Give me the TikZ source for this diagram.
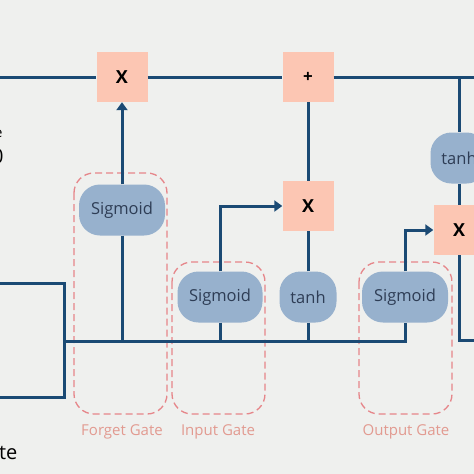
\documentclass[tikz,border=0pt]{standalone}
\usepackage{fontspec}
\setmainfont{Open Sans}
\usepackage{xcolor}
\usetikzlibrary{arrows.meta, positioning, calc}

\definecolor{bgcol}{HTML}{EFF0EE}
\definecolor{wire}{HTML}{1B4A74}
\definecolor{opfill}{HTML}{FCC6B3}
\definecolor{actfill}{HTML}{97B1CD}
\definecolor{acttext}{HTML}{2E3D55}
\definecolor{gatedash}{HTML}{E6868A}
\definecolor{gatelabel}{HTML}{E29A90}

\tikzset{
  wireline/.style={wire, line width=3pt},
  wirearrow/.style={wireline, -{Triangle[width=11pt,length=8pt]}},
  opbox/.style={fill=opfill, minimum width=51pt, minimum height=50pt, inner sep=0pt,
                font=\fontsize{18}{20}\selectfont\bfseries},
  actpill/.style={fill=actfill, rounded corners=21pt, minimum height=51pt, inner sep=0pt,
                  text=acttext, font=\fontsize{16.5}{19}\selectfont},
  gatebox/.style={gatedash, line width=1.3pt, dash pattern=on 7pt off 4pt, rounded corners=20pt},
  gatename/.style={text=gatelabel, font=\fontsize{15}{17}\selectfont}
}

\begin{document}
\begin{tikzpicture}[x=1pt, y=-1pt]
  % Background and frame
  \fill[bgcol] (0,0) rectangle (474,474);
  \useasboundingbox (0,0) rectangle (474,474);
  \clip (0,0) rectangle (474,474);

  % Text cut off at the left edge
  \node[font=\fontsize{14}{16}\selectfont, anchor=east] (cellname) at (6,132) {Cell State};
  \node[font=\fontsize{20}{22}\selectfont, anchor=east] (cellsym) at (7,156) {C0};
  \node[font=\fontsize{20}{22}\selectfont, anchor=east] (hidname) at (21,452) {State};

  % Pointwise operations
  \node[opbox] (fmul) at (122,77) {X};
  \node[opbox, font=\fontsize{17}{20}\selectfont\bfseries] (cadd) at (308,77) {+};
  \node[opbox] (imul) at (308,206) {X};
  \node[opbox] (omul) at (459,230) {X};

  % Activations
  \node[actpill, minimum width=86pt] (fsig) at (122,210) {Sigmoid};
  \node[actpill, minimum width=85pt] (isig) at (220,297) {Sigmoid};
  \node[actpill, minimum width=57pt] (itanh) at (308,297) {tanh};
  \node[actpill, minimum width=86pt] (osig) at (405,297) {Sigmoid};
  \node[actpill, minimum width=57pt] (otanh) at (459,158) {tanh};

  % Gate outlines and names
  \draw[gatebox] (74,173) rectangle (167,414);
  \draw[gatebox] (172,262) rectangle (265,414);
  \draw[gatebox] (359,262) rectangle (452,414);
  \node[gatename] (fname) at (122,432) {Forget Gate};
  \node[gatename] (iname) at (218,432) {Input Gate};
  \node[gatename] (oname) at (406,432) {Output Gate};

  % Cell state line
  \coordinate (cin) at (0,77);
  \coordinate (cout) at (474,77);
  \coordinate (ctap) at (otanh.center |- cout);
  \draw[wireline] (cin) -- (fmul.west);
  \draw[wireline] (fmul.east) -- (cadd.west);
  \draw[wireline] (cadd.east) -- (cout);
  \draw[wireline] (ctap) -- (otanh.north);
  \draw[wireline] (otanh.south) -- (omul.north);

  % Input box and shared bus
  \coordinate (boxtop) at (0,283);
  \coordinate (boxbot) at (0,397);
  \coordinate (busl) at (64,341);
  \draw[wireline] (boxtop) -| (busl) |- (boxbot);
  \draw[wireline] (busl) -| (osig.south);
  \draw[wireline] (fsig.south) -- (fsig.south |- busl);
  \draw[wireline] (isig.south) -- (isig.south |- busl);
  \draw[wireline] (itanh.south) -- (itanh.south |- busl);

  % Gate outputs
  \draw[wirearrow] (fsig.north) -- (fmul.south);
  \draw[wirearrow] (isig.north) |- (imul.west);
  \draw[wirearrow] (osig.north) |- (omul.west);
  \draw[wireline] (itanh.north) -- (imul.south);
  \draw[wireline] (imul.north) -- (cadd.south);

  % Hidden state out
  \coordinate (hout) at (474,340);
  \draw[wireline] (omul.south) |- (hout);
\end{tikzpicture}
\end{document}
